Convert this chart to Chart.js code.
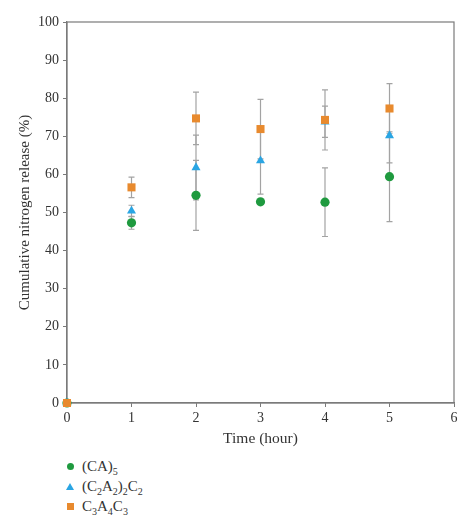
<!DOCTYPE html>
<html>
<head>
<meta charset="utf-8">
<script src="https://cdn.jsdelivr.net/npm/chart.js@4.4.0/dist/chart.umd.min.js"></script>
<style>
  html,body{margin:0;padding:0;background:#fff;}
  #wrap{position:relative;width:474px;height:530px;}
  #c{position:absolute;left:0;top:0;}
  #legend{position:absolute;left:63px;top:456px;font-family:"Liberation Serif","DejaVu Serif",serif;font-size:15px;color:#333;}
  #legend .row{height:20px;line-height:20px;display:flex;align-items:center;}
  #legend .mk{width:14px;display:inline-flex;justify-content:center;margin-right:5px;}
  #legend sub{font-size:10px;line-height:0;}
</style>
</head>
<body>
<div id="wrap">
  <canvas id="c" width="474" height="452"></canvas>
  <div id="legend"></div>
</div>
<script>
(function(){
  // Daten
  var times = [0, 1, 2, 3, 4, 5];
  var xTicks = [0, 1, 2, 3, 4, 5, 6];
  var yTicks = [0, 10, 20, 30, 40, 50, 60, 70, 80, 90, 100];

  var caVals  = [0, 47.3, 54.5, 52.8, 52.7, 59.4];
  var caErr   = [0, 1.7, 9.2, 0.5, 9.0, 11.8];
  var c2Vals  = [0, 50.4, 61.8, 63.6, 73.8, 70.2];
  var c2Err   = [0, 1.5, 8.5, 8.8, 4.1, 7.2];
  var c3Vals  = [0, 56.6, 74.7, 71.9, 74.3, 77.3];
  var c3Err   = [0, 2.7, 6.9, 7.8, 7.9, 6.5];

  var names = ["(CA)<sub>5</sub>", "(C<sub>2</sub>A<sub>2</sub>)<sub>2</sub>C<sub>2</sub>", "C<sub>3</sub>A<sub>4</sub>C<sub>3</sub>"];
  var GREEN = "#1f9a3f", BLUE = "#2aa5e3", ORANGE = "#e88a2e";
  var AXIS = "#7a7a7a", TXT = "#333";
  var FONT = "'Liberation Serif','DejaVu Serif',serif";

  function pts(vals){ return times.map(function(t,i){ return {x:t, y:vals[i]}; }); }

  var datasets = [
    { label:"(CA)5", data:pts(caVals), err:caErr, pointStyle:"circle", radius:4.6, backgroundColor:GREEN, borderColor:GREEN, order:2 },
    { label:"(C2A2)2C2", data:pts(c2Vals), err:c2Err, pointStyle:"triangle", radius:5.2, backgroundColor:BLUE, borderColor:BLUE, order:1 },
    { label:"C3A4C3", data:pts(c3Vals), err:c3Err, pointStyle:"rect", radius:5.7, backgroundColor:ORANGE, borderColor:ORANGE, order:0 }
  ];
  datasets.forEach(function(d){ d.pointRadius = d.radius; d.pointHoverRadius = d.radius; d.borderWidth = 0; d.clip = false; });

  // Fehlerbalken hinter den Punkten + Rahmen
  var errorBars = {
    id:"errorBars",
    beforeDatasetsDraw:function(chart){
      var ctx = chart.ctx, xs = chart.scales.x, ys = chart.scales.y;
      ctx.save();
      ctx.strokeStyle = "#a3a3a3"; ctx.lineWidth = 1.2;
      chart.data.datasets.forEach(function(ds){
        ds.data.forEach(function(p,i){
          var e = ds.err[i]; if(!e) return;
          var px = xs.getPixelForValue(p.x);
          var top = ys.getPixelForValue(p.y + e), bot = ys.getPixelForValue(p.y - e);
          ctx.beginPath();
          ctx.moveTo(px, top); ctx.lineTo(px, bot);
          ctx.moveTo(px-3, top); ctx.lineTo(px+3, top);
          ctx.moveTo(px-3, bot); ctx.lineTo(px+3, bot);
          ctx.stroke();
        });
      });
      ctx.restore();
    },
    beforeDraw:function(chart){
      var a = chart.chartArea, ctx = chart.ctx;
      ctx.save(); ctx.strokeStyle = AXIS; ctx.lineWidth = 1.2;
      ctx.strokeRect(a.left, a.top, a.right-a.left, a.bottom-a.top);
      ctx.restore();
    }
  };

  new Chart(document.getElementById("c"), {
    type:"scatter",
    data:{ datasets:datasets },
    options:{
      responsive:false, animation:false,
      layout:{ padding:{ top:22, right:20, left:0, bottom:0 } },
      plugins:{ legend:{ display:false }, tooltip:{ enabled:false } },
      scales:{
        x:{
          type:"linear", min:0, max:6,
          afterBuildTicks:function(s){ s.ticks = xTicks.map(function(v){ return {value:v}; }); },
          afterFit:function(s){ s.height = 49; },
          grid:{ drawOnChartArea:false, tickLength:4, color:AXIS },
          border:{ color:AXIS, width:1.2 },
          ticks:{ color:TXT, font:{ family:FONT, size:14 }, padding:3 },
          title:{ display:true, text:"Time (hour)", color:TXT, font:{ family:FONT, size:15.5 }, padding:{top:0} }
        },
        y:{
          min:0, max:100,
          afterBuildTicks:function(s){ s.ticks = yTicks.map(function(v){ return {value:v}; }); },
          afterFit:function(s){ s.width = 67; },
          grid:{ drawOnChartArea:false, tickLength:4, color:AXIS },
          border:{ color:AXIS, width:1.2 },
          ticks:{ color:TXT, font:{ family:FONT, size:14 }, padding:4 },
          title:{ display:true, text:"Cumulative nitrogen release (%)", color:TXT, font:{ family:FONT, size:15 }, padding:{top:16, bottom:2} }
        }
      }
    },
    plugins:[errorBars]
  });

  // Legende (HTML, wegen Indizes)
  var shapes = [
    '<span style="width:7px;height:7px;border-radius:50%;background:'+GREEN+';display:inline-block"></span>',
    '<span style="width:0;height:0;border-left:4px solid transparent;border-right:4px solid transparent;border-bottom:7px solid '+BLUE+';display:inline-block"></span>',
    '<span style="width:7px;height:7px;background:'+ORANGE+';display:inline-block"></span>'
  ];
  document.getElementById("legend").innerHTML = names.map(function(n,i){
    return '<div class="row"><span class="mk">'+shapes[i]+'</span><span>'+n+'</span></div>';
  }).join("");
})();
</script>
</body>
</html>
